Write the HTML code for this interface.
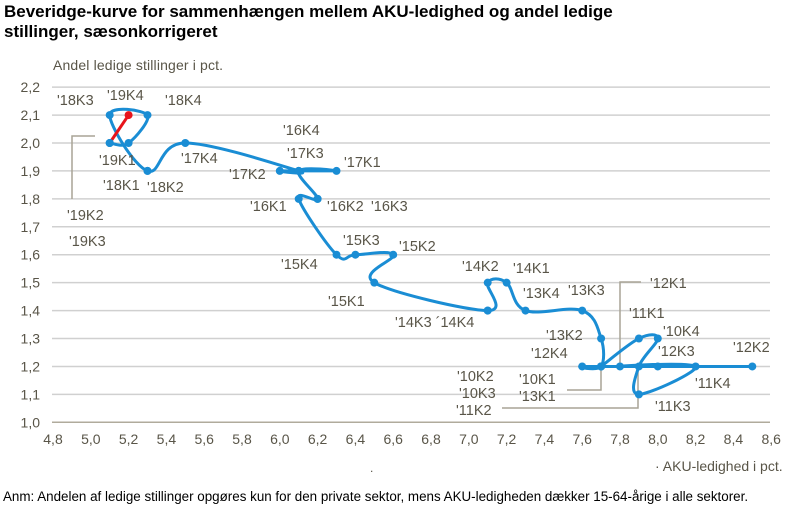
<!DOCTYPE html>
<html><head><meta charset="utf-8"><style>
body{margin:0;background:#fff;width:800px;height:508px;overflow:hidden;font-family:"Liberation Sans",sans-serif}
.t{position:absolute;left:4px;font-weight:bold;font-size:17px;color:#000;line-height:20px}
svg text{font-family:"Liberation Sans",sans-serif;fill:#595548}
</style></head><body>
<div class="t" style="top:2px">Beveridge-kurve for sammenhængen mellem AKU-ledighed og andel ledige<br>stillinger, sæsonkorrigeret</div>
<svg id="c" width="800" height="508" style="position:absolute;left:0;top:0"></svg>
<div style="position:absolute;left:3px;top:489px;font-size:13.4px;color:#000;white-space:nowrap">Anm: Andelen af ledige stillinger opgøres kun for den private sektor, mens AKU-ledigheden dækker 15-64-årige i alle sektorer.</div>
<script>
const quarters=["10K1","10K2","10K3","10K4","11K1","11K2","11K3","11K4","12K1","12K2","12K3","12K4","13K1","13K2","13K3","13K4","14K1","14K2","14K3","14K4","15K1","15K2","15K3","15K4","16K1","16K2","16K3","16K4","17K1","17K2","17K3","17K4","18K1","18K2","18K3","18K4","19K1","19K2","19K3","19K4"];
const unemployment=[7.7,7.7,7.7,7.9,8.0,7.9,7.9,8.2,7.8,8.5,8.0,7.6,7.7,7.7,7.6,7.3,7.2,7.1,7.1,7.1,6.5,6.6,6.4,6.3,6.1,6.2,6.2,6.1,6.3,6.0,6.1,5.5,5.3,5.3,5.1,5.3,5.2,5.1,5.1,5.2];
const vacancies=[1.2,1.2,1.2,1.3,1.3,1.2,1.1,1.2,1.2,1.2,1.2,1.2,1.2,1.3,1.4,1.4,1.5,1.5,1.4,1.4,1.5,1.6,1.6,1.6,1.8,1.8,1.8,1.9,1.9,1.9,1.9,2.0,1.9,1.9,2.1,2.1,2.0,2.0,2.0,2.1];
const xTicks=["4,8","5,0","5,2","5,4","5,6","5,8","6,0","6,2","6,4","6,6","6,8","7,0","7,2","7,4","7,6","7,8","8,0","8,2","8,4","8,6"];
const yTicks=["1,0","1,1","1,2","1,3","1,4","1,5","1,6","1,7","1,8","1,9","2,0","2,1","2,2"];
const X=v=>53+(v-4.8)*189, Y=v=>422.3-(v-1)*279.3;
const svg=document.getElementById('c'),NS='http://www.w3.org/2000/svg';
function mk(t,a,p){const e=document.createElementNS(NS,t);for(const k in a)e.setAttribute(k,a[k]);(p||svg).appendChild(e);return e;}
yTicks.forEach((s,i)=>{const v=1+i*0.1;
 const l=mk('line',{x1:52,x2:770,y1:Y(v),y2:Y(v),stroke:i==0?'#b0ab9c':'#d0d0d0','stroke-width':1.5});
 
 
 const t=mk('text',{x:40,y:Y(v)+5,'text-anchor':'end','font-size':14});t.textContent=s;
 
 });
xTicks.forEach((s,i)=>{const t=mk('text',{x:X(4.8+i*0.2),y:444,'text-anchor':'middle','font-size':14});t.textContent=s;
 
 });
let t=mk('text',{x:53,y:70,'font-size':14,'textLength':170});t.textContent='Andel ledige stillinger i pct.';


t=mk('text',{x:655,y:471,'font-size':14});t.textContent='·  AKU-ledighed i pct.';


t=mk('text',{x:370,y:472,'font-size':12});t.textContent='.';
[[95,136,72,136,72,199],[641,282,620,282,620,366],[601,366,601,390,567,390],[638,366,638,408,502,408]].forEach(p=>{
 const l=mk('polyline',{points:`${p[0]},${p[1]} ${p[2]},${p[3]} ${p[4]},${p[5]}`,fill:'none',stroke:'#a8a495','stroke-width':1.5});
 
 });
const pts=quarters.map((q,i)=>[X(unemployment[i]),Y(vacancies[i])]);
const n=pts.length;
// dedupe consecutive identical points for blue path (exclude last segment)
const bp=[];pts.slice(0,n-1).forEach(q=>{const l=bp[bp.length-1];if(!l||Math.abs(l[0]-q[0])>0.5||Math.abs(l[1]-q[1])>0.5)bp.push(q);});
function seg(a,b,c,d){const k=0.18;return `C${b[0]+(c[0]-a[0])*k},${b[1]+(c[1]-a[1])*k} ${c[0]-(d[0]-b[0])*k},${c[1]-(d[1]-b[1])*k} ${c[0]},${c[1]}`;}
const m=bp.length;let dB=`M${bp[0][0]},${bp[0][1]}`;
for(let i=0;i<m-1;i++){dB+=seg(bp[Math.max(0,i-1)],bp[i],bp[i+1],bp[Math.min(m-1,i+2)]);}
let p=mk('path',{d:dB,fill:'none',stroke:'#1a8dd4','stroke-width':3});


p=mk('line',{x1:pts[n-2][0],y1:pts[n-2][1],x2:pts[n-1][0],y2:pts[n-1][1],stroke:'#e8141b','stroke-width':3});


pts.forEach((q,i)=>{const c=mk('circle',{cx:q[0],cy:q[1],r:4,fill:i==n-1?'#e8141b':'#1a8dd4'});
 
 });
const labels=[["'18K3",57,105],["'19K4",107,100],["'18K4",165,105],["'16K4",283,135],["'19K1",99,165],["'17K4",181,163],["'17K3",287,158],["'17K1",344,167],["'18K1",103,190],["'18K2",147,192],["'17K2",229,179],["'19K2",67,220],["'16K1",250,211],["'16K2",327,211],["'16K3",371,211],["'19K3",69,246],["'15K3",343,245],["'15K2",399,251],["'15K4",281,269],["'14K2",462,271],["'14K1",513,273],["'15K1",328,306],["'13K4",523,298],["'13K3",568,295],["'12K1",650,288],["'14K3 ´14K4",395,327],["'11K1",629,318],["'10K4",663,336],["'13K2",546,340],["'12K4",531,358],["'12K3",658,356],["'12K2",733,352],["'10K2",457,381],["'10K1",519,384],["'11K4",695,388],["'10K3",459,398],["'13K1",519,401],["'11K3",655,411],["'11K2",456,415]];
labels.forEach(l=>{const e=mk('text',{x:l[1],y:l[2],'font-size':14.5});e.textContent=l[0];
 
 });
</script>
</body></html>
